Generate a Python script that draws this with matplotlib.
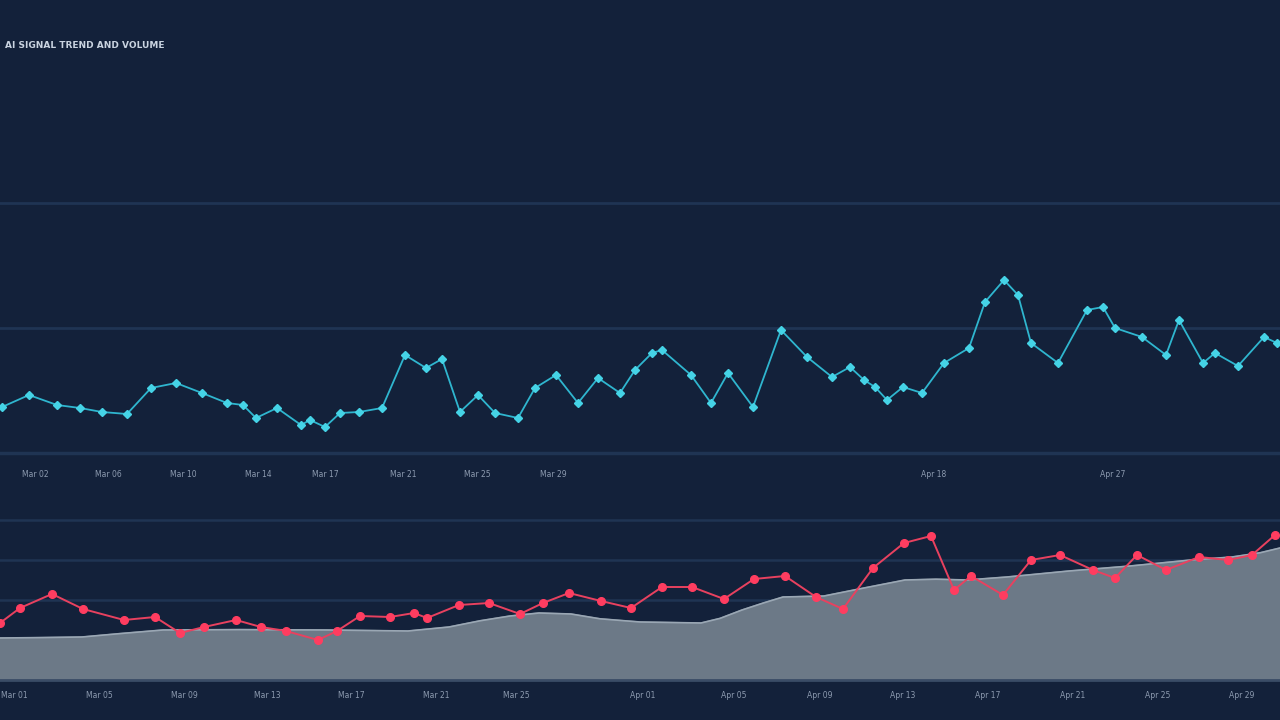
import matplotlib.pyplot as plt

# top series (cyan) - day offset and value
t_top = [0.1, 1.45, 2.85, 4.0, 5.1, 6.35, 7.55, 8.8, 10.1, 11.35, 12.15, 12.8, 13.85,
         15.05, 15.5, 16.25, 17.0, 17.95, 19.1, 20.25, 21.3, 22.1, 23.0, 23.9, 24.75,
         25.9, 26.75, 27.8, 28.9, 29.9, 31.0, 31.75, 32.6, 33.1, 34.55, 35.55, 36.4,
         37.65, 39.05, 40.35, 41.6, 42.5, 43.2, 43.75, 44.35, 45.15, 46.1, 47.2, 48.45,
         49.25, 50.2, 50.9, 51.55, 52.9, 54.35, 55.15, 55.75, 57.1, 58.3, 58.95, 60.15,
         60.75, 61.9, 63.2, 63.85]
signal = [18.4, 23.2, 19.2, 18.0, 16.4, 15.6, 26.0, 28.0, 24.0, 20.0, 19.2, 14.0, 18.0,
          11.2, 13.2, 10.4, 16.0, 16.4, 18.0, 39.2, 34.0, 37.6, 16.4, 23.2, 16.0,
          14.0, 26.0, 31.2, 20.0, 30.0, 24.0, 33.2, 40.0, 41.2, 31.2, 20.0, 32.0,
          18.4, 49.2, 38.4, 30.4, 34.4, 29.2, 26.4, 21.2, 26.4, 24.0, 36.0, 42.0,
          60.4, 69.2, 63.2, 44.0, 36.0, 57.2, 58.4, 50.0, 46.4, 39.2, 53.2, 36.0,
          40.0, 34.8, 46.4, 44.0]
top_ticks = [1.75, 5.4, 9.15, 12.9, 16.25, 20.15, 23.85, 27.65, 46.7, 55.65]
top_labels = ['Mar 02', 'Mar 06', 'Mar 10', 'Mar 14', 'Mar 17', 'Mar 21', 'Mar 25',
              'Mar 29', 'Apr 18', 'Apr 27']

# bottom series (red line + grey baseline area)
t_bot = [0.0, 1.0, 2.6, 4.15, 6.2, 7.75, 9.0, 10.2, 11.8, 13.05, 14.3, 15.9, 16.85,
         18.0, 19.5, 20.7, 21.35, 22.95, 24.45, 26.0, 27.15, 28.45, 30.05, 31.55,
         33.1, 34.6, 36.2, 37.7, 39.25, 40.8, 42.15, 43.65, 45.2, 46.55, 47.7, 48.55,
         50.15, 51.55, 53.0, 54.65, 55.75, 56.85, 58.3, 59.95, 61.4, 62.6, 63.75]
response = [14.25, 18.0, 21.5, 17.75, 15.0, 15.75, 11.75, 13.25, 15.0, 13.25, 12.25,
            10.0, 12.25, 16.0, 15.75, 16.75, 15.5, 18.75, 19.25, 16.5, 19.25, 21.75,
            19.75, 18.0, 23.25, 23.25, 20.25, 25.25, 26.0, 20.75, 17.75, 28.0, 34.25,
            36.0, 22.5, 26.0, 21.25, 30.0, 31.25, 27.5, 25.5, 31.25, 27.5, 30.75, 30.0,
            31.25, 36.25]
t_base = [0.0, 2.0, 4.1, 6.0, 8.15, 12.0, 16.35, 20.4, 22.45, 24.0, 25.5, 26.95, 28.55,
          30.0, 32.0, 35.05, 36.0, 37.1, 38.2, 39.15, 41.2, 43.2, 45.25, 46.8, 48.35,
          50.35, 53.45, 56.5, 59.55, 61.6, 63.0, 64.0]
baseline = [10.5, 10.6, 10.75, 11.6, 12.5, 12.6, 12.5, 12.25, 13.25, 14.8, 16.0, 16.75,
            16.5, 15.3, 14.5, 14.25, 15.4, 17.5, 19.3, 20.75, 21.0, 23.0, 25.0, 25.2,
            25.0, 25.75, 27.25, 28.5, 30.0, 30.75, 31.8, 33.0]
bot_ticks = [0.7, 4.95, 9.2, 13.35, 17.55, 21.8, 25.8, 32.15, 36.7, 41.0, 45.15,
             49.4, 53.65, 57.9, 62.1]
bot_labels = ['Mar 01', 'Mar 05', 'Mar 09', 'Mar 13', 'Mar 17', 'Mar 21', 'Mar 25',
              'Apr 01', 'Apr 05', 'Apr 09', 'Apr 13', 'Apr 17', 'Apr 21',
              'Apr 25', 'Apr 29']

bg = '#13213a'
grid_c = '#1f3453'
tick_c = '#8d9bb0'

fig = plt.figure(figsize=(12.8, 7.2), dpi=100, facecolor=bg)

ax1 = fig.add_axes([0, 1 - 453 / 720, 1, (453 - 78) / 720])
ax2 = fig.add_axes([0, 1 - 680 / 720, 1, (680 - 500) / 720])

for ax in (ax1, ax2):
    ax.set_facecolor(bg)
    for s in ax.spines.values():
        s.set_visible(False)
    ax.set_xlim(0, 64)
    ax.tick_params(axis='y', left=False, labelleft=False)
    ax.tick_params(axis='x', length=0, colors=tick_c, labelsize=5.5, pad=12)

# top panel
ax1.set_ylim(0, 150)
ax1.set_yticks([50, 100])
ax1.grid(axis='y', color=grid_c, lw=2)
ax1.axhline(0, color=grid_c, lw=2.5, clip_on=False)
ax1.plot(t_top, signal, color='#2fb6cf', lw=1.3, marker='D', ms=3.6,
         mfc='#45d3e6', mec='#45d3e6', zorder=3)
ax1.set_xticks(top_ticks)
ax1.set_xticklabels(top_labels)

# bottom panel
ax2.set_ylim(0, 45)
ax2.set_yticks([10, 20, 30, 40])
ax2.grid(axis='y', color=grid_c, lw=1.8)
ax2.fill_between(t_base, baseline, 0, color='#6c7987', zorder=2)
ax2.plot(t_base, baseline, color='#9aa7b4', lw=1.2, zorder=2)
ax2.axhline(0, color='#3a4c66', lw=2, clip_on=False, zorder=3)
ax2.plot(t_bot, response, color='#e8415f', lw=1.4, marker='o', ms=5.5,
         mfc='#ff3d60', mec='#ff3d60', zorder=4)
ax2.set_xticks(bot_ticks)
ax2.set_xticklabels(bot_labels)
ax2.tick_params(axis='x', pad=8)

fig.text(0.004, 1 - 46 / 720, 'AI SIGNAL TREND AND VOLUME', color='#c9d3e0',
         fontsize=6.5, fontweight='bold', va='center', ha='left')

fig.savefig('out.png', dpi=100, facecolor=bg)
